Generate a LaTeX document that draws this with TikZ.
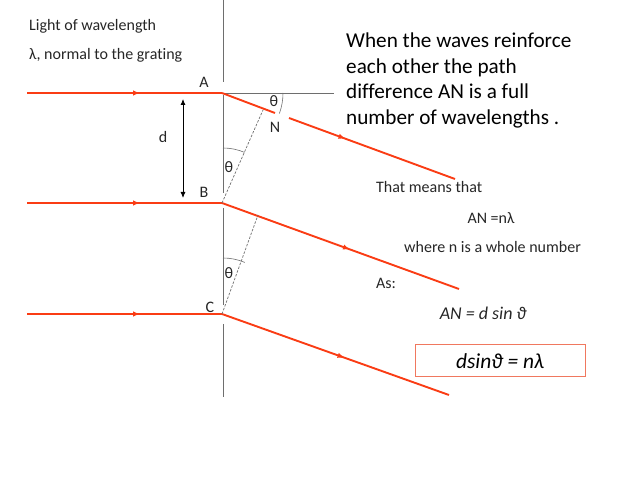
\documentclass[tikz,border=0pt]{standalone}
\usepackage{fontspec}
\setmainfont[RawFeature={-liga;-clig}]{Carlito}
\usetikzlibrary{arrows.meta, decorations.markings}
\definecolor{rayred}{RGB}{250, 60, 20}
\definecolor{boxred}{RGB}{240, 120, 95}
\definecolor{gratinggray}{RGB}{110, 110, 110}
\tikzset{
  ray/.style={draw=rayred, line width=1.9pt, postaction={decorate},
    decoration={markings, mark=at position #1 with {\arrow[rayred]{Latex[length=7pt,width=5.5pt]}}}},
  plainray/.style={draw=rayred, line width=1.9pt},
  grating/.style={draw=gratinggray, line width=0.8pt},
  pathdiff/.style={draw=gratinggray, line width=0.7pt, dash pattern=on 2.5pt off 1.5pt},
  lbl/.style={font=\fontsize{16}{18}\selectfont, text=black!85, inner sep=0pt},
  leftlbl/.style={lbl, anchor=west},
  headlbl/.style={font=\fontsize{21.2}{25.4}\selectfont, text=black, inner sep=0pt, anchor=north west, align=left}
}
\begin{document}
\begin{tikzpicture}[x=1pt, y=-1pt]
  \useasboundingbox (0,0) rectangle (638,478);

  % Slits
  \coordinate (A) at (222,93);
  \coordinate (B) at (222,203);
  \coordinate (C) at (222,314);

  % Grating
  \draw[grating] (223,0) -- (223,82);
  \draw[grating] (223,95) -- (223,193);
  \draw[grating] (223,208) -- (223,305);
  \draw[grating] (223,324) -- (223,397);
  \coordinate (Aend) at (334,93);
  \draw[grating] (A) -- (Aend);

  % Incoming rays
  \coordinate (inA) at (27,93);
  \coordinate (inB) at (27,203);
  \coordinate (inC) at (27,314);
  \draw[ray=0.58] (inA) -- (A);
  \draw[ray=0.58] (inB) -- (B);
  \draw[ray=0.58] (inC) -- (C);

  % Outgoing rays
  \coordinate (N) at (275,113);
  \coordinate (Nout) at (289,118);
  \coordinate (outA) at (455,179);
  \coordinate (outB) at (459,289);
  \coordinate (outC) at (449,395);
  \draw[plainray] (A) -- (N);
  \draw[ray=0.34] (Nout) -- (outA);
  \draw[ray=0.54] (B) -- (outB);
  \draw[ray=0.54] (C) -- (outC);

  % Path difference
  \coordinate (footA) at (263,110);
  \coordinate (footB) at (258,215);
  \draw[pathdiff] (B) -- (footA);
  \draw[pathdiff] (C) -- (footB);

  % Angles
  \draw[grating, line width=0.6pt] (283,93) arc[start angle=0, end angle=20, radius=60];
  \draw[grating, line width=0.6pt] (223,148) arc[start angle=-90, end angle=-67, radius=55];
  \draw[grating, line width=0.6pt] (223,258) arc[start angle=-90, end angle=-67, radius=56];

  % Spacing arrow
  \coordinate (dtop) at (183,99);
  \coordinate (dbot) at (183,198);
  \draw[{Latex[length=6pt,width=5pt]}-{Latex[length=6pt,width=5pt]}, line width=0.8pt] (dtop) -- (dbot);

  % Labels
  \node[lbl] (la) at (204,82) {A};
  \node[lbl] (lb) at (204,192) {B};
  \node[lbl] (lc) at (210,307) {C};
  \node[lbl] (ln) at (275,127) {N};
  \node[lbl] (ld) at (163,137) {d};
  \node[lbl] (th1) at (274,101) {θ};
  \node[lbl] (th2) at (229,167) {θ};
  \node[lbl] (th3) at (229,273) {θ};

  % Left text
  \node[leftlbl] (light) at (29,26.5) {Light of wavelength};
  \node[leftlbl] (normal) at (29,55.5) {λ, normal to the grating};

  % Right text
  \node[headlbl] (head) at (346,33) {When the waves reinforce\\each other the path\\difference AN is a full\\number of wavelengths .};
  \node[leftlbl] (means) at (376,187.5) {That means that};
  \node[lbl] (anl) at (491,218.5) {AN =nλ};
  \node[leftlbl] (where) at (404,247.5) {where n is a whole number};
  \node[leftlbl] (as) at (376,283.5) {As:};
  \node[lbl, font=\fontsize{18}{20}\selectfont\itshape] (ands) at (483,313) {AN = d sin ϑ};

  % Result
  \node[draw=boxred, line width=1pt, minimum width=170pt, minimum height=32pt, inner sep=0pt,
    font=\fontsize{21.4}{24}\selectfont\itshape] (result) at (500,361) {dsinϑ = nλ};
\end{tikzpicture}
\end{document}
